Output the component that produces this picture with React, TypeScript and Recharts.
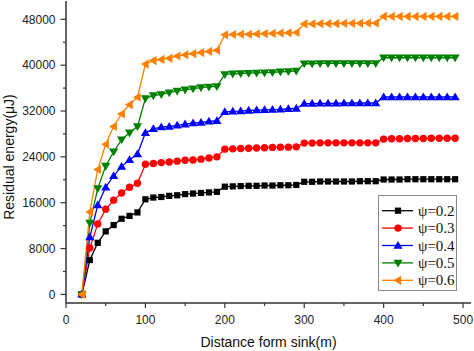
import React from 'react';
import { LineChart, Line, XAxis, YAxis, Legend, Label } from 'recharts';

const distances = [20, 30, 40, 50, 60, 70, 80, 90, 100, 110, 120, 130, 140, 150, 160, 170, 180, 190,
  200, 210, 220, 230, 240, 250, 260, 270, 280, 290,
  300, 310, 320, 330, 340, 350, 360, 370, 380, 390,
  400, 410, 420, 430, 440, 450, 460, 470, 480, 490];

const psi02 = [0, 6000, 9000, 11000, 12100, 13200, 13700, 14300, 16600, 16900, 17000, 17200, 17300, 17500, 17600, 17700, 17800, 17900,
  18800, 18850, 18900, 18950, 18950, 19000, 19000, 19050, 19050, 19100,
  19650, 19650, 19700, 19700, 19700, 19700, 19700, 19750, 19750, 19750,
  20050, 20050, 20050, 20100, 20100, 20100, 20100, 20100, 20100, 20100];

const psi03 = [0, 8100, 12300, 14850, 16450, 17700, 18700, 19400, 22700, 22850, 23000, 23100, 23250, 23400, 23450, 23600, 23800, 24000,
  25350, 25400, 25450, 25500, 25550, 25600, 25650, 25700, 25700, 25750,
  26400, 26400, 26450, 26450, 26450, 26450, 26450, 26450, 26450, 26450,
  27100, 27150, 27150, 27200, 27200, 27200, 27250, 27250, 27250, 27250];

const psi04 = [0, 10000, 15600, 18700, 20700, 22300, 23500, 24500, 28200, 28900, 29200, 29300, 29500, 29700, 29900, 30000, 30200, 30300,
  31850, 31950, 32000, 32100, 32150, 32200, 32250, 32300, 32400, 32450,
  33300, 33300, 33350, 33350, 33350, 33400, 33400, 33400, 33400, 33400,
  34450, 34450, 34450, 34450, 34450, 34450, 34450, 34450, 34450, 34450];

const psi05 = [0, 12450, 18500, 22400, 24900, 27000, 28200, 29300, 34200, 34700, 34900, 35200, 35500, 35700, 35900, 36100, 36200, 36300,
  38400, 38500, 38550, 38600, 38650, 38700, 38750, 38850, 38900, 39000,
  40250, 40250, 40300, 40300, 40300, 40300, 40300, 40300, 40300, 40300,
  41300, 41300, 41300, 41300, 41300, 41300, 41300, 41300, 41300, 41300];

const psi06 = [0, 14400, 21800, 26200, 29300, 31500, 33100, 34400, 40200, 40800, 41000, 41200, 41600, 41800, 42000, 42200, 42400, 42600,
  45300, 45350, 45400, 45400, 45450, 45500, 45550, 45600, 45650, 45700,
  47200, 47200, 47250, 47250, 47250, 47300, 47300, 47300, 47350, 47350,
  48500, 48500, 48500, 48500, 48500, 48500, 48500, 48500, 48500, 48500];

const seriesNames = ['ψ=0.2', 'ψ=0.3', 'ψ=0.4', 'ψ=0.5', 'ψ=0.6'];
const seriesKeys = ['s02', 's03', 's04', 's05', 's06'];
const seriesColors = ['#000000', '#ff0000', '#0000ff', '#008000', '#ff8000'];
const seriesShapes = ['square', 'circle', 'up', 'down', 'left'];

const xTicks = [0, 50, 100, 150, 200, 250, 300, 350, 400, 450, 500];
const xLabelTicks = [0, 100, 200, 300, 400, 500];
const yTicks = [0, 4000, 8000, 12000, 16000, 20000, 24000, 28000, 32000, 36000, 40000, 44000, 48000];
const yLabelTicks = [0, 8000, 16000, 24000, 32000, 40000, 48000];

const xTitle = 'Distance form sink(m)';
const yTitle = 'Residual energy(μJ)';

const data = distances.map((d, i) => ({
  d,
  s02: psi02[i],
  s03: psi03[i],
  s04: psi04[i],
  s05: psi05[i],
  s06: psi06[i],
}));

const AXIS_COLOR = '#333333';
const SANS = '"Liberation Sans", Arial, sans-serif';
const SERIF = '"Liberation Serif", "Times New Roman", serif';

function Marker({ shape, cx, cy, color }: { shape: string; cx: number; cy: number; color: string }) {
  if (cx == null || cy == null || isNaN(cx) || isNaN(cy)) return null;
  switch (shape) {
    case 'square':
      return <rect x={cx - 3.1} y={cy - 3.1} width={6.2} height={6.2} fill={color} />;
    case 'circle':
      return <circle cx={cx} cy={cy} r={3.7} fill={color} />;
    case 'up':
      return <polygon points={`${cx},${cy - 4.6} ${cx - 4.6},${cy + 3.2} ${cx + 4.6},${cy + 3.2}`} fill={color} />;
    case 'down':
      return <polygon points={`${cx},${cy + 4.6} ${cx - 4.6},${cy - 3.2} ${cx + 4.6},${cy - 3.2}`} fill={color} />;
    case 'left':
      return <polygon points={`${cx - 4.6},${cy} ${cx + 3.2},${cy - 4.6} ${cx + 3.2},${cy + 4.6}`} fill={color} />;
    default:
      return null;
  }
}

const BottomTick = (props: any) => {
  const { x, y, payload } = props;
  const major = xLabelTicks.includes(payload.value);
  return (
    <g>
      <line x1={x} x2={x} y1={y} y2={y + (major ? 5 : 3)} stroke={AXIS_COLOR} strokeWidth={1.2} />
      {major && (
        <text x={x} y={y + 20.5} textAnchor="middle" fontFamily={SANS} fontSize={12} fill="#222">
          {payload.value}
        </text>
      )}
    </g>
  );
};

const TopTick = (props: any) => {
  const { x, y, payload } = props;
  const major = xLabelTicks.includes(payload.value);
  return <line x1={x} x2={x} y1={y} y2={y + (major ? 6 : 3.5)} stroke={AXIS_COLOR} strokeWidth={1.2} />;
};

const LeftTick = (props: any) => {
  const { x, y, payload } = props;
  const major = yLabelTicks.includes(payload.value);
  return (
    <g>
      <line x1={x - (major ? 5.5 : 3)} x2={x} y1={y} y2={y} stroke={AXIS_COLOR} strokeWidth={1.2} />
      {major && (
        <text x={x - 10.5} y={y + 4.2} textAnchor="end" fontFamily={SANS} fontSize={12} fill="#222">
          {payload.value}
        </text>
      )}
    </g>
  );
};

const RightTick = (props: any) => {
  const { x, y, payload } = props;
  const major = yLabelTicks.includes(payload.value);
  return <line x1={x - (major ? 5.5 : 3)} x2={x} y1={y} y2={y} stroke={AXIS_COLOR} strokeWidth={1.2} />;
};

const LegendBox = () => {
  const rowH = 17.4;
  return (
    <svg width={79} height={96} style={{ display: 'block' }}>
      <rect x={0.5} y={0.5} width={78} height={95} fill="#ffffff" stroke="#888888" strokeWidth={1} />
      {seriesNames.map((name, i) => {
        const cy = 15.7 + i * rowH;
        return (
          <g key={name}>
            <line x1={4} x2={35} y1={cy} y2={cy} stroke={seriesColors[i]} strokeWidth={1.3} />
            <Marker shape={seriesShapes[i]} cx={20} cy={cy} color={seriesColors[i]} />
            <text x={40} y={cy + 5} fontFamily={SERIF} fontSize={15} fill="#111">
              {name}
            </text>
          </g>
        );
      })}
    </svg>
  );
};

export default function App() {
  return (
    <div style={{ position: 'absolute', left: 0, top: 0, width: 474, height: 351, background: '#fff' }}>
      <LineChart width={474} height={351} data={data} margin={{ top: 1, right: 3, bottom: 0, left: 0 }}>
        <XAxis
          dataKey="d"
          type="number"
          domain={[0, 510]}
          ticks={xTicks}
          interval={0}
          height={48}
          tickSize={0}
          tickMargin={0}
          tickLine={false}
          tick={<BottomTick />}
          axisLine={{ stroke: AXIS_COLOR, strokeWidth: 1.5 }}
          allowDataOverflow
        >
          <Label
            content={(p: any) => {
              const vb = p.viewBox;
              return (
                <text x={vb.x + vb.width / 2} y={vb.y + 44} textAnchor="middle" fontFamily={SANS} fontSize={14} fill="#111">
                  {xTitle}
                </text>
              );
            }}
          />
        </XAxis>
        <XAxis
          xAxisId="top"
          orientation="top"
          dataKey="d"
          type="number"
          domain={[0, 510]}
          ticks={xTicks}
          interval={0}
          height={0}
          tickSize={0}
          tickMargin={0}
          tickLine={false}
          tick={<TopTick />}
          axisLine={{ stroke: AXIS_COLOR, strokeWidth: 1.5 }}
          allowDataOverflow
        />
        <YAxis
          type="number"
          domain={[-1500, 51200]}
          ticks={yTicks}
          interval={0}
          width={66}
          tickSize={0}
          tickMargin={0}
          tickLine={false}
          tick={<LeftTick />}
          axisLine={{ stroke: AXIS_COLOR, strokeWidth: 1.5 }}
          allowDataOverflow
        >
          <Label
            content={(p: any) => {
              const vb = p.viewBox;
              const cx = vb.x + 9;
              const cy = vb.y + vb.height / 2 + 5;
              return (
                <text
                  x={cx}
                  y={cy}
                  textAnchor="middle"
                  dominantBaseline="central"
                  transform={`rotate(-90, ${cx}, ${cy})`}
                  fontFamily={SANS}
                  fontSize={14}
                  fill="#111"
                >
                  {yTitle}
                </text>
              );
            }}
          />
        </YAxis>
        <YAxis
          yAxisId="right"
          orientation="right"
          type="number"
          domain={[-1500, 51200]}
          ticks={yTicks}
          interval={0}
          width={0}
          tickSize={0}
          tickMargin={0}
          tickLine={false}
          tick={<RightTick />}
          axisLine={{ stroke: AXIS_COLOR, strokeWidth: 1.5 }}
          allowDataOverflow
        />
        {seriesKeys.map((k, i) => (
          <Line
            key={k}
            dataKey={k}
            name={seriesNames[i]}
            stroke={seriesColors[i]}
            strokeWidth={1.3}
            isAnimationActive={false}
            dot={(p: any) => (
              <Marker key={`${k}-${p.index}`} shape={seriesShapes[i]} cx={p.cx} cy={p.cy} color={seriesColors[i]} />
            )}
            activeDot={false}
          />
        ))}
        <Legend
          layout="vertical"
          align="center"
          verticalAlign="middle"
          content={() => <LegendBox />}
          wrapperStyle={{ position: 'absolute', left: 378, top: 195, width: 79, height: 96 }}
        />
      </LineChart>
    </div>
  );
}
